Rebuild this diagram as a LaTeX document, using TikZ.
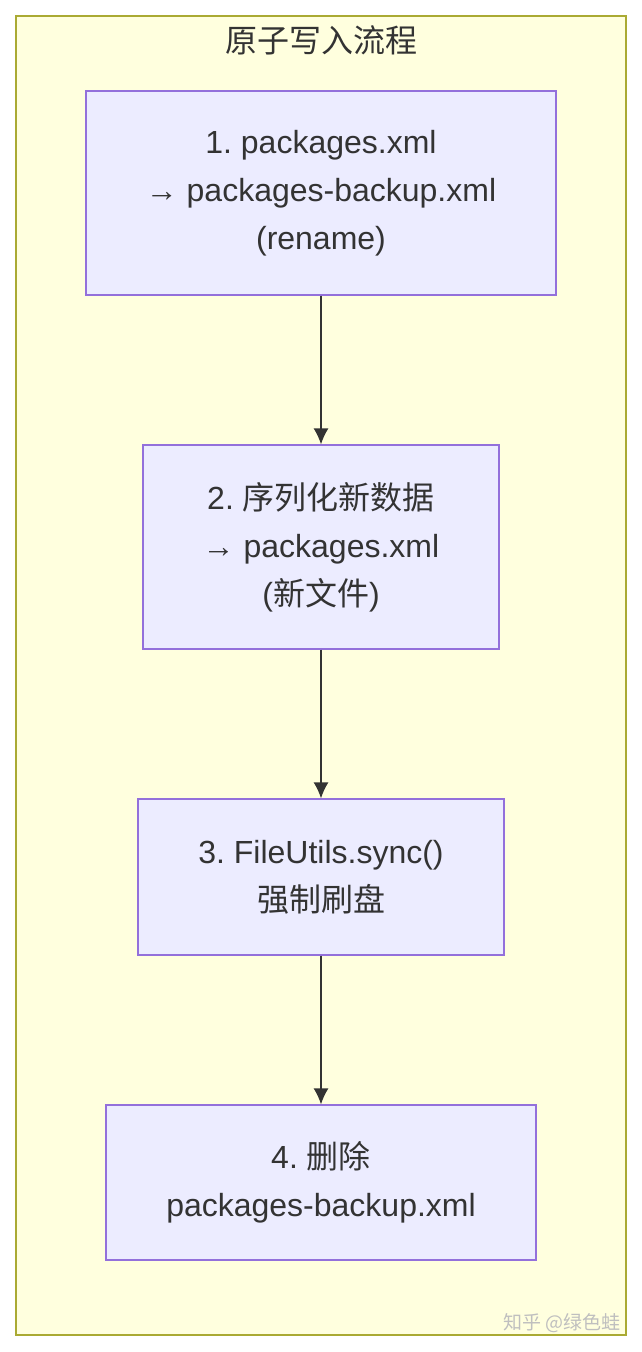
\documentclass[tikz,border=0pt]{standalone}
\usepackage{fontspec}
\usetikzlibrary{arrows.meta}
\setmainfont{Liberation Sans}
\newfontfamily\cjk{Noto Sans CJK SC}
\definecolor{bg}{HTML}{FFFFDE}
\definecolor{bgb}{HTML}{AAAA33}
\definecolor{nf}{HTML}{ECECFF}
\definecolor{nb}{HTML}{9370DB}
\definecolor{tx}{HTML}{333333}
\frenchspacing
\begin{document}
\begin{tikzpicture}[x=1pt,y=-1pt,
  box/.style={draw=nb,fill=nf,line width=1.3pt,align=center,text=tx,font=\fontsize{32}{48}\selectfont},
  arr/.style={draw=tx,line width=1.3pt,-{Latex[length=16pt,width=15pt]}}]
\useasboundingbox (0,0) rectangle (642,1352);
\draw[bgb,fill=bg,line width=1.3pt] (16,16) rectangle (626,1335);
\node[text=tx,font=\cjk\fontsize{32}{36}\selectfont] (t) at (321,40) {原子写入流程};
\node[box,minimum width=470pt,minimum height=204pt] (a) at (321,193) {1. packages.xml\\→ packages-backup.xml\\(rename)};
\node[box,minimum width=356pt,minimum height=204pt] (b) at (321,547) {2. {\cjk 序列化新数据}\\→ packages.xml\\({\cjk 新文件})};
\node[box,minimum width=366pt,minimum height=156pt] (c) at (321,877) {3. FileUtils.sync()\\{\cjk 强制刷盘}};
\node[box,minimum width=430pt,minimum height=155pt] (d) at (321,1182.5) {4. {\cjk 删除}\\packages-backup.xml};
\draw[arr] (a) -- (b);
\draw[arr] (b) -- (c);
\draw[arr] (c) -- (d);
\node[text=gray!50,font=\cjk\fontsize{19}{20}\selectfont,anchor=east] (w) at (624,1323) {知乎 @绿色蛙};
\end{tikzpicture}
\end{document}
